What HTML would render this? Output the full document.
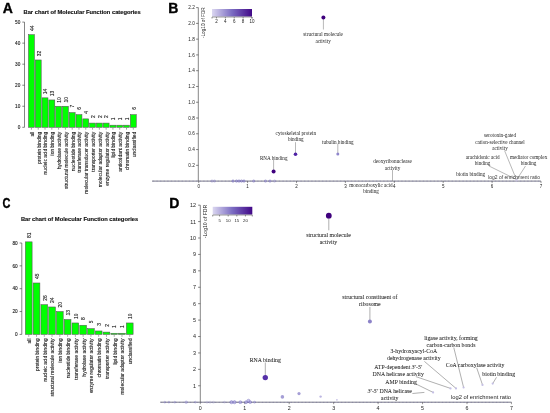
<!DOCTYPE html>
<html><head><meta charset="utf-8"><style>
html,body{margin:0;padding:0;background:#fff;width:550px;height:413px;overflow:hidden}
svg{display:block;filter:blur(0.3px)}
.S{font-family:"Liberation Sans",sans-serif}
.R{font-family:"Liberation Serif",serif}
</style></head><body>
<svg width="550" height="413" viewBox="0 0 550 413">
<rect width="550" height="413" fill="#fff"/>
<text class="S" x="2.70" y="12.80" font-size="14" text-anchor="start" font-weight="bold" fill="#000" stroke="#000" stroke-width="0.35">A</text>
<text class="S" x="168.20" y="12.80" font-size="14" text-anchor="start" font-weight="bold" fill="#000" stroke="#000" stroke-width="0.35">B</text>
<text class="S" x="2.50" y="208.40" font-size="14" text-anchor="start" font-weight="bold" fill="#000" textLength="7.9" lengthAdjust="spacingAndGlyphs" stroke="#000" stroke-width="0.35">C</text>
<text class="S" x="169.20" y="207.90" font-size="14" text-anchor="start" font-weight="bold" fill="#000" stroke="#000" stroke-width="0.35">D</text>
<text class="S" x="23.50" y="13.70" font-size="5.8" text-anchor="start" font-weight="bold" fill="#111" stroke="#111" stroke-width="0.15" textLength="117.3" lengthAdjust="spacingAndGlyphs">Bar chart of Molecular Function categories</text>
<line x1="24.50" y1="22.10" x2="24.50" y2="127.30" stroke="#333" stroke-width="0.6"/>
<line x1="22.30" y1="127.30" x2="24.50" y2="127.30" stroke="#333" stroke-width="0.6"/>
<text class="S" x="20.30" y="128.98" font-size="4.7" text-anchor="end" fill="#222" stroke="#222" stroke-width="0.12">0</text>
<line x1="22.30" y1="106.26" x2="24.50" y2="106.26" stroke="#333" stroke-width="0.6"/>
<text class="S" x="20.30" y="107.94" font-size="4.7" text-anchor="end" fill="#222" stroke="#222" stroke-width="0.12">10</text>
<line x1="22.30" y1="85.22" x2="24.50" y2="85.22" stroke="#333" stroke-width="0.6"/>
<text class="S" x="20.30" y="86.90" font-size="4.7" text-anchor="end" fill="#222" stroke="#222" stroke-width="0.12">20</text>
<line x1="22.30" y1="64.18" x2="24.50" y2="64.18" stroke="#333" stroke-width="0.6"/>
<text class="S" x="20.30" y="65.86" font-size="4.7" text-anchor="end" fill="#222" stroke="#222" stroke-width="0.12">30</text>
<line x1="22.30" y1="43.14" x2="24.50" y2="43.14" stroke="#333" stroke-width="0.6"/>
<text class="S" x="20.30" y="44.82" font-size="4.7" text-anchor="end" fill="#222" stroke="#222" stroke-width="0.12">40</text>
<line x1="22.30" y1="22.10" x2="24.50" y2="22.10" stroke="#333" stroke-width="0.6"/>
<text class="S" x="20.30" y="23.78" font-size="4.7" text-anchor="end" fill="#222" stroke="#222" stroke-width="0.12">50</text>
<rect x="28.50" y="34.72" width="5.90" height="92.58" fill="#00ff00" stroke="#555" stroke-width="0.55"/>
<line x1="31.45" y1="128.10" x2="31.45" y2="129.60" stroke="#333" stroke-width="0.5"/>
<text class="S" x="33.87" y="131.70" font-size="4.9" text-anchor="end" fill="#222" transform="rotate(-90 33.87 131.70)" stroke="#222" stroke-width="0.12">all</text>
<text class="S" x="33.73" y="28.32" font-size="4.95" text-anchor="middle" fill="#222" transform="rotate(-90 33.73 28.32)" stroke="#222" stroke-width="0.12">44</text>
<rect x="35.29" y="59.97" width="5.90" height="67.33" fill="#00ff00" stroke="#555" stroke-width="0.55"/>
<line x1="38.24" y1="128.10" x2="38.24" y2="129.60" stroke="#333" stroke-width="0.5"/>
<text class="S" x="40.66" y="131.70" font-size="4.9" text-anchor="end" fill="#222" transform="rotate(-90 40.66 131.70)" stroke="#222" stroke-width="0.12">protein binding</text>
<text class="S" x="40.52" y="53.57" font-size="4.95" text-anchor="middle" fill="#222" transform="rotate(-90 40.52 53.57)" stroke="#222" stroke-width="0.12">32</text>
<rect x="42.08" y="97.84" width="5.90" height="29.46" fill="#00ff00" stroke="#555" stroke-width="0.55"/>
<line x1="45.03" y1="128.10" x2="45.03" y2="129.60" stroke="#333" stroke-width="0.5"/>
<text class="S" x="47.45" y="131.70" font-size="4.9" text-anchor="end" fill="#222" transform="rotate(-90 47.45 131.70)" stroke="#222" stroke-width="0.12">nucleic acid binding</text>
<text class="S" x="47.31" y="91.44" font-size="4.95" text-anchor="middle" fill="#222" transform="rotate(-90 47.31 91.44)" stroke="#222" stroke-width="0.12">14</text>
<rect x="48.87" y="99.95" width="5.90" height="27.35" fill="#00ff00" stroke="#555" stroke-width="0.55"/>
<line x1="51.82" y1="128.10" x2="51.82" y2="129.60" stroke="#333" stroke-width="0.5"/>
<text class="S" x="54.24" y="131.70" font-size="4.9" text-anchor="end" fill="#222" transform="rotate(-90 54.24 131.70)" stroke="#222" stroke-width="0.12">ion binding</text>
<text class="S" x="54.10" y="93.55" font-size="4.95" text-anchor="middle" fill="#222" transform="rotate(-90 54.10 93.55)" stroke="#222" stroke-width="0.12">13</text>
<rect x="55.66" y="106.26" width="5.90" height="21.04" fill="#00ff00" stroke="#555" stroke-width="0.55"/>
<line x1="58.61" y1="128.10" x2="58.61" y2="129.60" stroke="#333" stroke-width="0.5"/>
<text class="S" x="61.03" y="131.70" font-size="4.9" text-anchor="end" fill="#222" transform="rotate(-90 61.03 131.70)" stroke="#222" stroke-width="0.12">hydrolase activity</text>
<text class="S" x="60.89" y="99.86" font-size="4.95" text-anchor="middle" fill="#222" transform="rotate(-90 60.89 99.86)" stroke="#222" stroke-width="0.12">10</text>
<rect x="62.45" y="106.26" width="5.90" height="21.04" fill="#00ff00" stroke="#555" stroke-width="0.55"/>
<line x1="65.40" y1="128.10" x2="65.40" y2="129.60" stroke="#333" stroke-width="0.5"/>
<text class="S" x="67.82" y="131.70" font-size="4.9" text-anchor="end" fill="#222" transform="rotate(-90 67.82 131.70)" stroke="#222" stroke-width="0.12">structural molecule activity</text>
<text class="S" x="67.68" y="99.86" font-size="4.95" text-anchor="middle" fill="#222" transform="rotate(-90 67.68 99.86)" stroke="#222" stroke-width="0.12">10</text>
<rect x="69.24" y="112.57" width="5.90" height="14.73" fill="#00ff00" stroke="#555" stroke-width="0.55"/>
<line x1="72.19" y1="128.10" x2="72.19" y2="129.60" stroke="#333" stroke-width="0.5"/>
<text class="S" x="74.61" y="131.70" font-size="4.9" text-anchor="end" fill="#222" transform="rotate(-90 74.61 131.70)" stroke="#222" stroke-width="0.12">nucleotide binding</text>
<text class="S" x="74.47" y="106.17" font-size="4.95" text-anchor="middle" fill="#222" transform="rotate(-90 74.47 106.17)" stroke="#222" stroke-width="0.12">7</text>
<rect x="76.03" y="114.68" width="5.90" height="12.62" fill="#00ff00" stroke="#555" stroke-width="0.55"/>
<line x1="78.98" y1="128.10" x2="78.98" y2="129.60" stroke="#333" stroke-width="0.5"/>
<text class="S" x="81.40" y="131.70" font-size="4.9" text-anchor="end" fill="#222" transform="rotate(-90 81.40 131.70)" stroke="#222" stroke-width="0.12">transferase activity</text>
<text class="S" x="81.26" y="108.28" font-size="4.95" text-anchor="middle" fill="#222" transform="rotate(-90 81.26 108.28)" stroke="#222" stroke-width="0.12">6</text>
<rect x="82.82" y="118.88" width="5.90" height="8.42" fill="#00ff00" stroke="#555" stroke-width="0.55"/>
<line x1="85.77" y1="128.10" x2="85.77" y2="129.60" stroke="#333" stroke-width="0.5"/>
<text class="S" x="88.19" y="131.70" font-size="4.9" text-anchor="end" fill="#222" transform="rotate(-90 88.19 131.70)" stroke="#222" stroke-width="0.12">molecular transducer activity</text>
<text class="S" x="88.05" y="112.48" font-size="4.95" text-anchor="middle" fill="#222" transform="rotate(-90 88.05 112.48)" stroke="#222" stroke-width="0.12">4</text>
<rect x="89.61" y="123.09" width="5.90" height="4.21" fill="#00ff00" stroke="#555" stroke-width="0.55"/>
<line x1="92.56" y1="128.10" x2="92.56" y2="129.60" stroke="#333" stroke-width="0.5"/>
<text class="S" x="94.98" y="131.70" font-size="4.9" text-anchor="end" fill="#222" transform="rotate(-90 94.98 131.70)" stroke="#222" stroke-width="0.12">transporter activity</text>
<text class="S" x="94.84" y="116.69" font-size="4.95" text-anchor="middle" fill="#222" transform="rotate(-90 94.84 116.69)" stroke="#222" stroke-width="0.12">2</text>
<rect x="96.40" y="123.09" width="5.90" height="4.21" fill="#00ff00" stroke="#555" stroke-width="0.55"/>
<line x1="99.35" y1="128.10" x2="99.35" y2="129.60" stroke="#333" stroke-width="0.5"/>
<text class="S" x="101.77" y="131.70" font-size="4.9" text-anchor="end" fill="#222" transform="rotate(-90 101.77 131.70)" stroke="#222" stroke-width="0.12">molecular adaptor activity</text>
<text class="S" x="101.63" y="116.69" font-size="4.95" text-anchor="middle" fill="#222" transform="rotate(-90 101.63 116.69)" stroke="#222" stroke-width="0.12">2</text>
<rect x="103.19" y="123.09" width="5.90" height="4.21" fill="#00ff00" stroke="#555" stroke-width="0.55"/>
<line x1="106.14" y1="128.10" x2="106.14" y2="129.60" stroke="#333" stroke-width="0.5"/>
<text class="S" x="108.56" y="131.70" font-size="4.9" text-anchor="end" fill="#222" transform="rotate(-90 108.56 131.70)" stroke="#222" stroke-width="0.12">enzyme regulator activity</text>
<text class="S" x="108.42" y="116.69" font-size="4.95" text-anchor="middle" fill="#222" transform="rotate(-90 108.42 116.69)" stroke="#222" stroke-width="0.12">2</text>
<rect x="109.98" y="125.20" width="5.90" height="2.10" fill="#00ff00" stroke="#555" stroke-width="0.55"/>
<line x1="112.93" y1="128.10" x2="112.93" y2="129.60" stroke="#333" stroke-width="0.5"/>
<text class="S" x="115.35" y="131.70" font-size="4.9" text-anchor="end" fill="#222" transform="rotate(-90 115.35 131.70)" stroke="#222" stroke-width="0.12">lipid binding</text>
<text class="S" x="115.21" y="118.80" font-size="4.95" text-anchor="middle" fill="#222" transform="rotate(-90 115.21 118.80)" stroke="#222" stroke-width="0.12">1</text>
<rect x="116.77" y="125.20" width="5.90" height="2.10" fill="#00ff00" stroke="#555" stroke-width="0.55"/>
<line x1="119.72" y1="128.10" x2="119.72" y2="129.60" stroke="#333" stroke-width="0.5"/>
<text class="S" x="122.14" y="131.70" font-size="4.9" text-anchor="end" fill="#222" transform="rotate(-90 122.14 131.70)" stroke="#222" stroke-width="0.12">antioxidant activity</text>
<text class="S" x="122.00" y="118.80" font-size="4.95" text-anchor="middle" fill="#222" transform="rotate(-90 122.00 118.80)" stroke="#222" stroke-width="0.12">1</text>
<rect x="123.56" y="125.20" width="5.90" height="2.10" fill="#00ff00" stroke="#555" stroke-width="0.55"/>
<line x1="126.51" y1="128.10" x2="126.51" y2="129.60" stroke="#333" stroke-width="0.5"/>
<text class="S" x="128.93" y="131.70" font-size="4.9" text-anchor="end" fill="#222" transform="rotate(-90 128.93 131.70)" stroke="#222" stroke-width="0.12">chromatin binding</text>
<text class="S" x="128.79" y="118.80" font-size="4.95" text-anchor="middle" fill="#222" transform="rotate(-90 128.79 118.80)" stroke="#222" stroke-width="0.12">1</text>
<rect x="130.35" y="114.68" width="5.90" height="12.62" fill="#00ff00" stroke="#555" stroke-width="0.55"/>
<line x1="133.30" y1="128.10" x2="133.30" y2="129.60" stroke="#333" stroke-width="0.5"/>
<text class="S" x="135.71" y="131.70" font-size="4.9" text-anchor="end" fill="#222" transform="rotate(-90 135.71 131.70)" stroke="#222" stroke-width="0.12">unclassified</text>
<text class="S" x="135.58" y="108.28" font-size="4.95" text-anchor="middle" fill="#222" transform="rotate(-90 135.58 108.28)" stroke="#222" stroke-width="0.12">6</text>
<text class="S" x="20.90" y="221.00" font-size="5.8" text-anchor="start" font-weight="bold" fill="#111" stroke="#111" stroke-width="0.15" textLength="117.3" lengthAdjust="spacingAndGlyphs">Bar chart of Molecular Function categories</text>
<line x1="21.80" y1="243.00" x2="21.80" y2="334.40" stroke="#333" stroke-width="0.6"/>
<line x1="19.60" y1="334.40" x2="21.80" y2="334.40" stroke="#333" stroke-width="0.6"/>
<text class="S" x="17.60" y="336.08" font-size="4.7" text-anchor="end" fill="#222" stroke="#222" stroke-width="0.12">0</text>
<line x1="19.60" y1="311.55" x2="21.80" y2="311.55" stroke="#333" stroke-width="0.6"/>
<text class="S" x="17.60" y="313.23" font-size="4.7" text-anchor="end" fill="#222" stroke="#222" stroke-width="0.12">20</text>
<line x1="19.60" y1="288.70" x2="21.80" y2="288.70" stroke="#333" stroke-width="0.6"/>
<text class="S" x="17.60" y="290.38" font-size="4.7" text-anchor="end" fill="#222" stroke="#222" stroke-width="0.12">40</text>
<line x1="19.60" y1="265.85" x2="21.80" y2="265.85" stroke="#333" stroke-width="0.6"/>
<text class="S" x="17.60" y="267.53" font-size="4.7" text-anchor="end" fill="#222" stroke="#222" stroke-width="0.12">60</text>
<line x1="19.60" y1="243.00" x2="21.80" y2="243.00" stroke="#333" stroke-width="0.6"/>
<text class="S" x="17.60" y="244.68" font-size="4.7" text-anchor="end" fill="#222" stroke="#222" stroke-width="0.12">80</text>
<rect x="25.40" y="241.86" width="6.70" height="92.54" fill="#00ff00" stroke="#555" stroke-width="0.55"/>
<line x1="28.75" y1="335.20" x2="28.75" y2="336.70" stroke="#333" stroke-width="0.5"/>
<text class="S" x="31.18" y="338.50" font-size="4.95" text-anchor="end" fill="#222" transform="rotate(-90 31.18 338.50)" stroke="#222" stroke-width="0.12">all</text>
<text class="S" x="31.03" y="235.16" font-size="4.95" text-anchor="middle" fill="#222" transform="rotate(-90 31.03 235.16)" stroke="#222" stroke-width="0.12">81</text>
<rect x="33.17" y="282.99" width="6.70" height="51.41" fill="#00ff00" stroke="#555" stroke-width="0.55"/>
<line x1="36.52" y1="335.20" x2="36.52" y2="336.70" stroke="#333" stroke-width="0.5"/>
<text class="S" x="38.95" y="338.50" font-size="4.95" text-anchor="end" fill="#222" transform="rotate(-90 38.95 338.50)" stroke="#222" stroke-width="0.12">protein binding</text>
<text class="S" x="38.80" y="276.29" font-size="4.95" text-anchor="middle" fill="#222" transform="rotate(-90 38.80 276.29)" stroke="#222" stroke-width="0.12">45</text>
<rect x="40.94" y="304.69" width="6.70" height="29.71" fill="#00ff00" stroke="#555" stroke-width="0.55"/>
<line x1="44.29" y1="335.20" x2="44.29" y2="336.70" stroke="#333" stroke-width="0.5"/>
<text class="S" x="46.72" y="338.50" font-size="4.95" text-anchor="end" fill="#222" transform="rotate(-90 46.72 338.50)" stroke="#222" stroke-width="0.12">nucleic acid binding</text>
<text class="S" x="46.57" y="298.00" font-size="4.95" text-anchor="middle" fill="#222" transform="rotate(-90 46.57 298.00)" stroke="#222" stroke-width="0.12">26</text>
<rect x="48.71" y="306.98" width="6.70" height="27.42" fill="#00ff00" stroke="#555" stroke-width="0.55"/>
<line x1="52.06" y1="335.20" x2="52.06" y2="336.70" stroke="#333" stroke-width="0.5"/>
<text class="S" x="54.49" y="338.50" font-size="4.95" text-anchor="end" fill="#222" transform="rotate(-90 54.49 338.50)" stroke="#222" stroke-width="0.12">structural molecule activity</text>
<text class="S" x="54.34" y="300.28" font-size="4.95" text-anchor="middle" fill="#222" transform="rotate(-90 54.34 300.28)" stroke="#222" stroke-width="0.12">24</text>
<rect x="56.48" y="311.55" width="6.70" height="22.85" fill="#00ff00" stroke="#555" stroke-width="0.55"/>
<line x1="59.83" y1="335.20" x2="59.83" y2="336.70" stroke="#333" stroke-width="0.5"/>
<text class="S" x="62.26" y="338.50" font-size="4.95" text-anchor="end" fill="#222" transform="rotate(-90 62.26 338.50)" stroke="#222" stroke-width="0.12">ion binding</text>
<text class="S" x="62.11" y="304.85" font-size="4.95" text-anchor="middle" fill="#222" transform="rotate(-90 62.11 304.85)" stroke="#222" stroke-width="0.12">20</text>
<rect x="64.25" y="319.55" width="6.70" height="14.85" fill="#00ff00" stroke="#555" stroke-width="0.55"/>
<line x1="67.60" y1="335.20" x2="67.60" y2="336.70" stroke="#333" stroke-width="0.5"/>
<text class="S" x="70.03" y="338.50" font-size="4.95" text-anchor="end" fill="#222" transform="rotate(-90 70.03 338.50)" stroke="#222" stroke-width="0.12">nucleotide binding</text>
<text class="S" x="69.88" y="312.85" font-size="4.95" text-anchor="middle" fill="#222" transform="rotate(-90 69.88 312.85)" stroke="#222" stroke-width="0.12">13</text>
<rect x="72.02" y="322.97" width="6.70" height="11.43" fill="#00ff00" stroke="#555" stroke-width="0.55"/>
<line x1="75.37" y1="335.20" x2="75.37" y2="336.70" stroke="#333" stroke-width="0.5"/>
<text class="S" x="77.80" y="338.50" font-size="4.95" text-anchor="end" fill="#222" transform="rotate(-90 77.80 338.50)" stroke="#222" stroke-width="0.12">transferase activity</text>
<text class="S" x="77.65" y="316.27" font-size="4.95" text-anchor="middle" fill="#222" transform="rotate(-90 77.65 316.27)" stroke="#222" stroke-width="0.12">10</text>
<rect x="79.79" y="325.26" width="6.70" height="9.14" fill="#00ff00" stroke="#555" stroke-width="0.55"/>
<line x1="83.14" y1="335.20" x2="83.14" y2="336.70" stroke="#333" stroke-width="0.5"/>
<text class="S" x="85.57" y="338.50" font-size="4.95" text-anchor="end" fill="#222" transform="rotate(-90 85.57 338.50)" stroke="#222" stroke-width="0.12">hydrolase activity</text>
<text class="S" x="85.42" y="318.56" font-size="4.95" text-anchor="middle" fill="#222" transform="rotate(-90 85.42 318.56)" stroke="#222" stroke-width="0.12">8</text>
<rect x="87.56" y="328.69" width="6.70" height="5.71" fill="#00ff00" stroke="#555" stroke-width="0.55"/>
<line x1="90.91" y1="335.20" x2="90.91" y2="336.70" stroke="#333" stroke-width="0.5"/>
<text class="S" x="93.34" y="338.50" font-size="4.95" text-anchor="end" fill="#222" transform="rotate(-90 93.34 338.50)" stroke="#222" stroke-width="0.12">enzyme regulator activity</text>
<text class="S" x="93.19" y="321.99" font-size="4.95" text-anchor="middle" fill="#222" transform="rotate(-90 93.19 321.99)" stroke="#222" stroke-width="0.12">5</text>
<rect x="95.33" y="330.97" width="6.70" height="3.43" fill="#00ff00" stroke="#555" stroke-width="0.55"/>
<line x1="98.68" y1="335.20" x2="98.68" y2="336.70" stroke="#333" stroke-width="0.5"/>
<text class="S" x="101.11" y="338.50" font-size="4.95" text-anchor="end" fill="#222" transform="rotate(-90 101.11 338.50)" stroke="#222" stroke-width="0.12">chromatin binding</text>
<text class="S" x="100.96" y="324.27" font-size="4.95" text-anchor="middle" fill="#222" transform="rotate(-90 100.96 324.27)" stroke="#222" stroke-width="0.12">3</text>
<rect x="103.10" y="332.11" width="6.70" height="2.29" fill="#00ff00" stroke="#555" stroke-width="0.55"/>
<line x1="106.45" y1="335.20" x2="106.45" y2="336.70" stroke="#333" stroke-width="0.5"/>
<text class="S" x="108.88" y="338.50" font-size="4.95" text-anchor="end" fill="#222" transform="rotate(-90 108.88 338.50)" stroke="#222" stroke-width="0.12">transporter activity</text>
<text class="S" x="108.73" y="325.41" font-size="4.95" text-anchor="middle" fill="#222" transform="rotate(-90 108.73 325.41)" stroke="#222" stroke-width="0.12">2</text>
<rect x="110.87" y="333.26" width="6.70" height="1.14" fill="#00ff00" stroke="#555" stroke-width="0.55"/>
<line x1="114.22" y1="335.20" x2="114.22" y2="336.70" stroke="#333" stroke-width="0.5"/>
<text class="S" x="116.65" y="338.50" font-size="4.95" text-anchor="end" fill="#222" transform="rotate(-90 116.65 338.50)" stroke="#222" stroke-width="0.12">lipid binding</text>
<text class="S" x="116.50" y="326.56" font-size="4.95" text-anchor="middle" fill="#222" transform="rotate(-90 116.50 326.56)" stroke="#222" stroke-width="0.12">1</text>
<rect x="118.64" y="333.26" width="6.70" height="1.14" fill="#00ff00" stroke="#555" stroke-width="0.55"/>
<line x1="121.99" y1="335.20" x2="121.99" y2="336.70" stroke="#333" stroke-width="0.5"/>
<text class="S" x="124.42" y="338.50" font-size="4.95" text-anchor="end" fill="#222" transform="rotate(-90 124.42 338.50)" stroke="#222" stroke-width="0.12">molecular adaptor activity</text>
<text class="S" x="124.27" y="326.56" font-size="4.95" text-anchor="middle" fill="#222" transform="rotate(-90 124.27 326.56)" stroke="#222" stroke-width="0.12">1</text>
<rect x="126.41" y="322.97" width="6.70" height="11.43" fill="#00ff00" stroke="#555" stroke-width="0.55"/>
<line x1="129.76" y1="335.20" x2="129.76" y2="336.70" stroke="#333" stroke-width="0.5"/>
<text class="S" x="132.19" y="338.50" font-size="4.95" text-anchor="end" fill="#222" transform="rotate(-90 132.19 338.50)" stroke="#222" stroke-width="0.12">unclassified</text>
<text class="S" x="132.04" y="316.27" font-size="4.95" text-anchor="middle" fill="#222" transform="rotate(-90 132.04 316.27)" stroke="#222" stroke-width="0.12">10</text>
<defs><linearGradient id="gB" x1="0" x2="1" y1="0" y2="0"><stop offset="0" stop-color="#dbd7f0"/><stop offset="0.5" stop-color="#7b6cc2"/><stop offset="1" stop-color="#420888"/></linearGradient></defs>
<rect x="212.00" y="9.00" width="40.00" height="7.50" fill="url(#gB)" stroke="none" stroke-width="0"/>
<line x1="212.00" y1="17.00" x2="252.00" y2="17.00" stroke="#333" stroke-width="0.5"/>
<line x1="212.00" y1="17.00" x2="212.00" y2="18.50" stroke="#333" stroke-width="0.5"/>
<line x1="252.00" y1="17.00" x2="252.00" y2="18.50" stroke="#333" stroke-width="0.5"/>
<line x1="216.44" y1="17.00" x2="216.44" y2="18.50" stroke="#333" stroke-width="0.5"/>
<text class="S" x="216.44" y="23.10" font-size="4.5" text-anchor="middle" fill="#222">2</text>
<line x1="225.33" y1="17.00" x2="225.33" y2="18.50" stroke="#333" stroke-width="0.5"/>
<text class="S" x="225.33" y="23.10" font-size="4.5" text-anchor="middle" fill="#222">4</text>
<line x1="234.22" y1="17.00" x2="234.22" y2="18.50" stroke="#333" stroke-width="0.5"/>
<text class="S" x="234.22" y="23.10" font-size="4.5" text-anchor="middle" fill="#222">6</text>
<line x1="243.11" y1="17.00" x2="243.11" y2="18.50" stroke="#333" stroke-width="0.5"/>
<text class="S" x="243.11" y="23.10" font-size="4.5" text-anchor="middle" fill="#222">8</text>
<line x1="252.00" y1="17.00" x2="252.00" y2="18.50" stroke="#333" stroke-width="0.5"/>
<text class="S" x="252.00" y="23.10" font-size="4.5" text-anchor="middle" fill="#222">10</text>
<line x1="198.30" y1="7.60" x2="198.30" y2="181.10" stroke="#333" stroke-width="0.6"/>
<line x1="196.10" y1="165.33" x2="198.30" y2="165.33" stroke="#333" stroke-width="0.6"/>
<text class="S" x="194.90" y="167.01" font-size="4.7" text-anchor="end" fill="#222">0.2</text>
<line x1="196.10" y1="149.56" x2="198.30" y2="149.56" stroke="#333" stroke-width="0.6"/>
<text class="S" x="194.90" y="151.24" font-size="4.7" text-anchor="end" fill="#222">0.4</text>
<line x1="196.10" y1="133.78" x2="198.30" y2="133.78" stroke="#333" stroke-width="0.6"/>
<text class="S" x="194.90" y="135.47" font-size="4.7" text-anchor="end" fill="#222">0.6</text>
<line x1="196.10" y1="118.01" x2="198.30" y2="118.01" stroke="#333" stroke-width="0.6"/>
<text class="S" x="194.90" y="119.69" font-size="4.7" text-anchor="end" fill="#222">0.8</text>
<line x1="196.10" y1="102.24" x2="198.30" y2="102.24" stroke="#333" stroke-width="0.6"/>
<text class="S" x="194.90" y="103.92" font-size="4.7" text-anchor="end" fill="#222">1.0</text>
<line x1="196.10" y1="86.47" x2="198.30" y2="86.47" stroke="#333" stroke-width="0.6"/>
<text class="S" x="194.90" y="88.15" font-size="4.7" text-anchor="end" fill="#222">1.2</text>
<line x1="196.10" y1="70.70" x2="198.30" y2="70.70" stroke="#333" stroke-width="0.6"/>
<text class="S" x="194.90" y="72.38" font-size="4.7" text-anchor="end" fill="#222">1.4</text>
<line x1="196.10" y1="54.92" x2="198.30" y2="54.92" stroke="#333" stroke-width="0.6"/>
<text class="S" x="194.90" y="56.61" font-size="4.7" text-anchor="end" fill="#222">1.6</text>
<line x1="196.10" y1="39.15" x2="198.30" y2="39.15" stroke="#333" stroke-width="0.6"/>
<text class="S" x="194.90" y="40.83" font-size="4.7" text-anchor="end" fill="#222">1.8</text>
<line x1="196.10" y1="23.38" x2="198.30" y2="23.38" stroke="#333" stroke-width="0.6"/>
<text class="S" x="194.90" y="25.06" font-size="4.7" text-anchor="end" fill="#222">2.0</text>
<line x1="196.10" y1="7.61" x2="198.30" y2="7.61" stroke="#333" stroke-width="0.6"/>
<text class="S" x="194.90" y="9.29" font-size="4.7" text-anchor="end" fill="#222">2.2</text>
<text class="S" x="204.60" y="22.70" font-size="4.7" text-anchor="middle" fill="#222" transform="rotate(-90 204.60 22.70)">-Log10 of FDR</text>
<line x1="152.00" y1="181.10" x2="541.00" y2="181.10" stroke="#3c3c55" stroke-width="0.7"/>
<ellipse cx="153.50" cy="181.10" rx="0.8" ry="0.5" fill="#5a5490" fill-opacity="0.35"/>
<ellipse cx="157.10" cy="181.10" rx="0.8" ry="0.5" fill="#5a5490" fill-opacity="0.35"/>
<ellipse cx="160.70" cy="181.10" rx="0.8" ry="0.5" fill="#5a5490" fill-opacity="0.35"/>
<ellipse cx="164.30" cy="181.10" rx="0.8" ry="0.5" fill="#5a5490" fill-opacity="0.35"/>
<ellipse cx="167.90" cy="181.10" rx="0.8" ry="0.5" fill="#5a5490" fill-opacity="0.35"/>
<ellipse cx="171.50" cy="181.10" rx="0.8" ry="0.5" fill="#5a5490" fill-opacity="0.35"/>
<ellipse cx="175.10" cy="181.10" rx="0.8" ry="0.5" fill="#5a5490" fill-opacity="0.35"/>
<ellipse cx="178.70" cy="181.10" rx="0.8" ry="0.5" fill="#5a5490" fill-opacity="0.35"/>
<ellipse cx="182.30" cy="181.10" rx="0.8" ry="0.5" fill="#5a5490" fill-opacity="0.35"/>
<ellipse cx="185.90" cy="181.10" rx="0.8" ry="0.5" fill="#5a5490" fill-opacity="0.35"/>
<ellipse cx="189.50" cy="181.10" rx="0.8" ry="0.5" fill="#5a5490" fill-opacity="0.35"/>
<ellipse cx="193.10" cy="181.10" rx="0.8" ry="0.5" fill="#5a5490" fill-opacity="0.35"/>
<ellipse cx="196.70" cy="181.10" rx="0.8" ry="0.5" fill="#5a5490" fill-opacity="0.35"/>
<ellipse cx="200.30" cy="181.10" rx="0.8" ry="0.5" fill="#5a5490" fill-opacity="0.35"/>
<ellipse cx="203.90" cy="181.10" rx="0.8" ry="0.5" fill="#5a5490" fill-opacity="0.35"/>
<ellipse cx="207.50" cy="181.10" rx="0.8" ry="0.5" fill="#5a5490" fill-opacity="0.35"/>
<ellipse cx="211.10" cy="181.10" rx="0.8" ry="0.5" fill="#5a5490" fill-opacity="0.35"/>
<ellipse cx="214.70" cy="181.10" rx="0.8" ry="0.5" fill="#5a5490" fill-opacity="0.35"/>
<ellipse cx="218.30" cy="181.10" rx="0.8" ry="0.5" fill="#5a5490" fill-opacity="0.35"/>
<ellipse cx="221.90" cy="181.10" rx="0.8" ry="0.5" fill="#5a5490" fill-opacity="0.35"/>
<ellipse cx="225.50" cy="181.10" rx="0.8" ry="0.5" fill="#5a5490" fill-opacity="0.35"/>
<ellipse cx="229.10" cy="181.10" rx="0.8" ry="0.5" fill="#5a5490" fill-opacity="0.35"/>
<ellipse cx="232.70" cy="181.10" rx="0.8" ry="0.5" fill="#5a5490" fill-opacity="0.35"/>
<ellipse cx="236.30" cy="181.10" rx="0.8" ry="0.5" fill="#5a5490" fill-opacity="0.35"/>
<ellipse cx="239.90" cy="181.10" rx="0.8" ry="0.5" fill="#5a5490" fill-opacity="0.35"/>
<ellipse cx="243.50" cy="181.10" rx="0.8" ry="0.5" fill="#5a5490" fill-opacity="0.35"/>
<ellipse cx="247.10" cy="181.10" rx="0.8" ry="0.5" fill="#5a5490" fill-opacity="0.35"/>
<ellipse cx="250.70" cy="181.10" rx="0.8" ry="0.5" fill="#5a5490" fill-opacity="0.35"/>
<ellipse cx="254.30" cy="181.10" rx="0.8" ry="0.5" fill="#5a5490" fill-opacity="0.35"/>
<ellipse cx="257.90" cy="181.10" rx="0.8" ry="0.5" fill="#5a5490" fill-opacity="0.35"/>
<ellipse cx="261.50" cy="181.10" rx="0.8" ry="0.5" fill="#5a5490" fill-opacity="0.35"/>
<ellipse cx="265.10" cy="181.10" rx="0.8" ry="0.5" fill="#5a5490" fill-opacity="0.35"/>
<ellipse cx="268.70" cy="181.10" rx="0.8" ry="0.5" fill="#5a5490" fill-opacity="0.35"/>
<ellipse cx="272.30" cy="181.10" rx="0.8" ry="0.5" fill="#5a5490" fill-opacity="0.35"/>
<ellipse cx="275.90" cy="181.10" rx="0.8" ry="0.5" fill="#5a5490" fill-opacity="0.35"/>
<ellipse cx="279.50" cy="181.10" rx="0.8" ry="0.5" fill="#5a5490" fill-opacity="0.35"/>
<ellipse cx="283.10" cy="181.10" rx="0.8" ry="0.5" fill="#5a5490" fill-opacity="0.35"/>
<ellipse cx="286.70" cy="181.10" rx="0.8" ry="0.5" fill="#5a5490" fill-opacity="0.35"/>
<ellipse cx="290.30" cy="181.10" rx="0.8" ry="0.5" fill="#5a5490" fill-opacity="0.35"/>
<ellipse cx="293.90" cy="181.10" rx="0.8" ry="0.5" fill="#5a5490" fill-opacity="0.35"/>
<ellipse cx="297.50" cy="181.10" rx="0.8" ry="0.5" fill="#5a5490" fill-opacity="0.35"/>
<ellipse cx="301.10" cy="181.10" rx="0.8" ry="0.5" fill="#5a5490" fill-opacity="0.35"/>
<ellipse cx="304.70" cy="181.10" rx="0.8" ry="0.5" fill="#5a5490" fill-opacity="0.35"/>
<ellipse cx="308.30" cy="181.10" rx="0.8" ry="0.5" fill="#5a5490" fill-opacity="0.35"/>
<ellipse cx="311.90" cy="181.10" rx="0.8" ry="0.5" fill="#5a5490" fill-opacity="0.35"/>
<ellipse cx="315.50" cy="181.10" rx="0.8" ry="0.5" fill="#5a5490" fill-opacity="0.35"/>
<ellipse cx="319.10" cy="181.10" rx="0.8" ry="0.5" fill="#5a5490" fill-opacity="0.35"/>
<ellipse cx="322.70" cy="181.10" rx="0.8" ry="0.5" fill="#5a5490" fill-opacity="0.35"/>
<ellipse cx="326.30" cy="181.10" rx="0.8" ry="0.5" fill="#5a5490" fill-opacity="0.35"/>
<ellipse cx="329.90" cy="181.10" rx="0.8" ry="0.5" fill="#5a5490" fill-opacity="0.35"/>
<ellipse cx="333.50" cy="181.10" rx="0.8" ry="0.5" fill="#5a5490" fill-opacity="0.35"/>
<ellipse cx="337.10" cy="181.10" rx="0.8" ry="0.5" fill="#5a5490" fill-opacity="0.35"/>
<ellipse cx="340.70" cy="181.10" rx="0.8" ry="0.5" fill="#5a5490" fill-opacity="0.35"/>
<ellipse cx="344.30" cy="181.10" rx="0.8" ry="0.5" fill="#5a5490" fill-opacity="0.35"/>
<ellipse cx="347.90" cy="181.10" rx="0.8" ry="0.5" fill="#5a5490" fill-opacity="0.35"/>
<ellipse cx="351.50" cy="181.10" rx="0.8" ry="0.5" fill="#5a5490" fill-opacity="0.35"/>
<ellipse cx="355.10" cy="181.10" rx="0.8" ry="0.5" fill="#5a5490" fill-opacity="0.35"/>
<ellipse cx="358.70" cy="181.10" rx="0.8" ry="0.5" fill="#5a5490" fill-opacity="0.35"/>
<ellipse cx="362.30" cy="181.10" rx="0.8" ry="0.5" fill="#5a5490" fill-opacity="0.35"/>
<ellipse cx="365.90" cy="181.10" rx="0.8" ry="0.5" fill="#5a5490" fill-opacity="0.35"/>
<ellipse cx="369.50" cy="181.10" rx="0.8" ry="0.5" fill="#5a5490" fill-opacity="0.35"/>
<ellipse cx="373.10" cy="181.10" rx="0.8" ry="0.5" fill="#5a5490" fill-opacity="0.35"/>
<ellipse cx="376.70" cy="181.10" rx="0.8" ry="0.5" fill="#5a5490" fill-opacity="0.35"/>
<ellipse cx="380.30" cy="181.10" rx="0.8" ry="0.5" fill="#5a5490" fill-opacity="0.35"/>
<ellipse cx="383.90" cy="181.10" rx="0.8" ry="0.5" fill="#5a5490" fill-opacity="0.35"/>
<ellipse cx="387.50" cy="181.10" rx="0.8" ry="0.5" fill="#5a5490" fill-opacity="0.35"/>
<ellipse cx="391.10" cy="181.10" rx="0.8" ry="0.5" fill="#5a5490" fill-opacity="0.35"/>
<ellipse cx="394.70" cy="181.10" rx="0.8" ry="0.5" fill="#5a5490" fill-opacity="0.35"/>
<ellipse cx="398.30" cy="181.10" rx="0.8" ry="0.5" fill="#5a5490" fill-opacity="0.35"/>
<ellipse cx="401.90" cy="181.10" rx="0.8" ry="0.5" fill="#5a5490" fill-opacity="0.35"/>
<ellipse cx="405.50" cy="181.10" rx="0.8" ry="0.5" fill="#5a5490" fill-opacity="0.35"/>
<ellipse cx="409.10" cy="181.10" rx="0.8" ry="0.5" fill="#5a5490" fill-opacity="0.35"/>
<ellipse cx="412.70" cy="181.10" rx="0.8" ry="0.5" fill="#5a5490" fill-opacity="0.35"/>
<ellipse cx="416.30" cy="181.10" rx="0.8" ry="0.5" fill="#5a5490" fill-opacity="0.35"/>
<ellipse cx="419.90" cy="181.10" rx="0.8" ry="0.5" fill="#5a5490" fill-opacity="0.35"/>
<ellipse cx="423.50" cy="181.10" rx="0.8" ry="0.5" fill="#5a5490" fill-opacity="0.35"/>
<ellipse cx="427.10" cy="181.10" rx="0.8" ry="0.5" fill="#5a5490" fill-opacity="0.35"/>
<ellipse cx="430.70" cy="181.10" rx="0.8" ry="0.5" fill="#5a5490" fill-opacity="0.35"/>
<ellipse cx="434.30" cy="181.10" rx="0.8" ry="0.5" fill="#5a5490" fill-opacity="0.35"/>
<ellipse cx="437.90" cy="181.10" rx="0.8" ry="0.5" fill="#5a5490" fill-opacity="0.35"/>
<ellipse cx="441.50" cy="181.10" rx="0.8" ry="0.5" fill="#5a5490" fill-opacity="0.35"/>
<ellipse cx="445.10" cy="181.10" rx="0.8" ry="0.5" fill="#5a5490" fill-opacity="0.35"/>
<ellipse cx="448.70" cy="181.10" rx="0.8" ry="0.5" fill="#5a5490" fill-opacity="0.35"/>
<ellipse cx="452.30" cy="181.10" rx="0.8" ry="0.5" fill="#5a5490" fill-opacity="0.35"/>
<ellipse cx="455.90" cy="181.10" rx="0.8" ry="0.5" fill="#5a5490" fill-opacity="0.35"/>
<ellipse cx="459.50" cy="181.10" rx="0.8" ry="0.5" fill="#5a5490" fill-opacity="0.35"/>
<ellipse cx="463.10" cy="181.10" rx="0.8" ry="0.5" fill="#5a5490" fill-opacity="0.35"/>
<ellipse cx="466.70" cy="181.10" rx="0.8" ry="0.5" fill="#5a5490" fill-opacity="0.35"/>
<ellipse cx="470.30" cy="181.10" rx="0.8" ry="0.5" fill="#5a5490" fill-opacity="0.35"/>
<ellipse cx="473.90" cy="181.10" rx="0.8" ry="0.5" fill="#5a5490" fill-opacity="0.35"/>
<ellipse cx="477.50" cy="181.10" rx="0.8" ry="0.5" fill="#5a5490" fill-opacity="0.35"/>
<ellipse cx="481.10" cy="181.10" rx="0.8" ry="0.5" fill="#5a5490" fill-opacity="0.35"/>
<ellipse cx="484.70" cy="181.10" rx="0.8" ry="0.5" fill="#5a5490" fill-opacity="0.35"/>
<ellipse cx="488.30" cy="181.10" rx="0.8" ry="0.5" fill="#5a5490" fill-opacity="0.35"/>
<ellipse cx="491.90" cy="181.10" rx="0.8" ry="0.5" fill="#5a5490" fill-opacity="0.35"/>
<ellipse cx="495.50" cy="181.10" rx="0.8" ry="0.5" fill="#5a5490" fill-opacity="0.35"/>
<ellipse cx="499.10" cy="181.10" rx="0.8" ry="0.5" fill="#5a5490" fill-opacity="0.35"/>
<ellipse cx="502.70" cy="181.10" rx="0.8" ry="0.5" fill="#5a5490" fill-opacity="0.35"/>
<ellipse cx="506.30" cy="181.10" rx="0.8" ry="0.5" fill="#5a5490" fill-opacity="0.35"/>
<ellipse cx="509.90" cy="181.10" rx="0.8" ry="0.5" fill="#5a5490" fill-opacity="0.35"/>
<ellipse cx="513.50" cy="181.10" rx="0.8" ry="0.5" fill="#5a5490" fill-opacity="0.35"/>
<ellipse cx="517.10" cy="181.10" rx="0.8" ry="0.5" fill="#5a5490" fill-opacity="0.35"/>
<ellipse cx="520.70" cy="181.10" rx="0.8" ry="0.5" fill="#5a5490" fill-opacity="0.35"/>
<ellipse cx="524.30" cy="181.10" rx="0.8" ry="0.5" fill="#5a5490" fill-opacity="0.35"/>
<ellipse cx="527.90" cy="181.10" rx="0.8" ry="0.5" fill="#5a5490" fill-opacity="0.35"/>
<ellipse cx="531.50" cy="181.10" rx="0.8" ry="0.5" fill="#5a5490" fill-opacity="0.35"/>
<ellipse cx="535.10" cy="181.10" rx="0.8" ry="0.5" fill="#5a5490" fill-opacity="0.35"/>
<ellipse cx="538.70" cy="181.10" rx="0.8" ry="0.5" fill="#5a5490" fill-opacity="0.35"/>
<line x1="198.70" y1="181.10" x2="198.70" y2="183.10" stroke="#333" stroke-width="0.5"/>
<text class="S" x="198.70" y="188.17" font-size="4.5" text-anchor="middle" fill="#222">0</text>
<line x1="247.60" y1="181.10" x2="247.60" y2="183.10" stroke="#333" stroke-width="0.5"/>
<text class="S" x="247.60" y="188.17" font-size="4.5" text-anchor="middle" fill="#222">1</text>
<line x1="296.50" y1="181.10" x2="296.50" y2="183.10" stroke="#333" stroke-width="0.5"/>
<text class="S" x="296.50" y="188.17" font-size="4.5" text-anchor="middle" fill="#222">2</text>
<line x1="345.40" y1="181.10" x2="345.40" y2="183.10" stroke="#333" stroke-width="0.5"/>
<text class="S" x="345.40" y="188.17" font-size="4.5" text-anchor="middle" fill="#222">3</text>
<line x1="394.30" y1="181.10" x2="394.30" y2="183.10" stroke="#333" stroke-width="0.5"/>
<text class="S" x="394.30" y="188.17" font-size="4.5" text-anchor="middle" fill="#222">4</text>
<line x1="443.20" y1="181.10" x2="443.20" y2="183.10" stroke="#333" stroke-width="0.5"/>
<text class="S" x="443.20" y="188.17" font-size="4.5" text-anchor="middle" fill="#222">5</text>
<line x1="492.10" y1="181.10" x2="492.10" y2="183.10" stroke="#333" stroke-width="0.5"/>
<text class="S" x="492.10" y="188.17" font-size="4.5" text-anchor="middle" fill="#222">6</text>
<line x1="541.00" y1="181.10" x2="541.00" y2="183.10" stroke="#333" stroke-width="0.5"/>
<text class="S" x="541.00" y="188.17" font-size="4.5" text-anchor="middle" fill="#222">7</text>
<circle cx="212.00" cy="181.10" r="1.25" fill="#a098d8" stroke="#4a40a0" stroke-width="0.4" opacity="0.4"/>
<circle cx="214.50" cy="181.10" r="1.25" fill="#a098d8" stroke="#4a40a0" stroke-width="0.4" opacity="0.4"/>
<circle cx="233.00" cy="181.10" r="1.25" fill="#a098d8" stroke="#4a40a0" stroke-width="0.4" opacity="0.7"/>
<circle cx="236.50" cy="181.10" r="1.25" fill="#a098d8" stroke="#4a40a0" stroke-width="0.4" opacity="0.7"/>
<circle cx="239.00" cy="181.10" r="1.25" fill="#a098d8" stroke="#4a40a0" stroke-width="0.4" opacity="0.7"/>
<circle cx="241.50" cy="181.10" r="1.25" fill="#a098d8" stroke="#4a40a0" stroke-width="0.4" opacity="0.7"/>
<circle cx="244.00" cy="181.10" r="1.25" fill="#a098d8" stroke="#4a40a0" stroke-width="0.4" opacity="0.7"/>
<circle cx="253.70" cy="181.10" r="1.25" fill="#a098d8" stroke="#4a40a0" stroke-width="0.4" opacity="0.6"/>
<circle cx="265.50" cy="181.10" r="1.25" fill="#a098d8" stroke="#4a40a0" stroke-width="0.4" opacity="0.6"/>
<circle cx="270.00" cy="181.10" r="1.25" fill="#a098d8" stroke="#4a40a0" stroke-width="0.4" opacity="0.6"/>
<circle cx="274.50" cy="181.10" r="1.25" fill="#a098d8" stroke="#4a40a0" stroke-width="0.4" opacity="0.4"/>
<line x1="323.40" y1="17.50" x2="323.40" y2="29.50" stroke="#707070" stroke-width="0.5"/>
<circle cx="323.40" cy="17.50" r="2.00" fill="#3f007d" stroke="none" stroke-width="0"/>
<text class="R" x="323.10" y="36.26" font-size="5.15" text-anchor="middle" fill="#222">structural molecule</text>
<text class="R" x="323.10" y="42.56" font-size="5.15" text-anchor="middle" fill="#222">activity</text>
<line x1="295.50" y1="142.20" x2="295.50" y2="154.10" stroke="#707070" stroke-width="0.5"/>
<circle cx="295.50" cy="154.20" r="1.80" fill="#4f22a5" stroke="none" stroke-width="0"/>
<text class="R" x="295.80" y="135.26" font-size="5.15" text-anchor="middle" fill="#222">cytoskeletal protein</text>
<text class="R" x="295.80" y="141.16" font-size="5.15" text-anchor="middle" fill="#222">binding</text>
<line x1="337.80" y1="143.50" x2="337.80" y2="154.10" stroke="#707070" stroke-width="0.5"/>
<circle cx="337.80" cy="154.10" r="1.50" fill="#8f86cc" stroke="none" stroke-width="0"/>
<text class="R" x="337.80" y="143.76" font-size="5.15" text-anchor="middle" fill="#222">tubulin binding</text>
<line x1="273.60" y1="159.80" x2="273.60" y2="171.60" stroke="#707070" stroke-width="0.5"/>
<circle cx="273.60" cy="171.60" r="2.00" fill="#3f007d" stroke="none" stroke-width="0"/>
<text class="R" x="273.70" y="159.86" font-size="5.15" text-anchor="middle" fill="#222">RNA binding</text>
<line x1="392.50" y1="169.60" x2="392.50" y2="181.00" stroke="#707070" stroke-width="0.5"/>
<text class="R" x="392.50" y="163.46" font-size="5.15" text-anchor="middle" fill="#222">deoxyribonuclease</text>
<text class="R" x="392.50" y="169.56" font-size="5.15" text-anchor="middle" fill="#222">activity</text>
<text class="R" x="371.00" y="186.76" font-size="5.15" text-anchor="middle" fill="#222">monocarboxylic acid</text>
<text class="R" x="371.00" y="192.66" font-size="5.15" text-anchor="middle" fill="#222">binding</text>
<line x1="504.50" y1="150.50" x2="516.40" y2="179.50" stroke="#707070" stroke-width="0.5"/>
<text class="R" x="500.00" y="137.26" font-size="5.15" text-anchor="middle" fill="#222">serotonin-gated</text>
<text class="R" x="500.00" y="143.61" font-size="5.15" text-anchor="middle" fill="#222">cation-selective channel</text>
<text class="R" x="500.00" y="149.96" font-size="5.15" text-anchor="middle" fill="#222">activity</text>
<line x1="489.00" y1="166.00" x2="516.40" y2="179.50" stroke="#707070" stroke-width="0.5"/>
<text class="R" x="482.60" y="159.46" font-size="5.15" text-anchor="middle" fill="#222">arachidonic acid</text>
<text class="R" x="482.60" y="165.26" font-size="5.15" text-anchor="middle" fill="#222">binding</text>
<line x1="525.50" y1="166.00" x2="516.80" y2="179.50" stroke="#707070" stroke-width="0.5"/>
<text class="R" x="528.60" y="159.46" font-size="5.15" text-anchor="middle" fill="#222">mediator complex</text>
<text class="R" x="528.60" y="165.26" font-size="5.15" text-anchor="middle" fill="#222">binding</text>
<text class="R" x="470.70" y="175.96" font-size="5.15" text-anchor="middle" fill="#222">biotin binding</text>
<circle cx="516.60" cy="180.30" r="1.30" fill="#c8c4dc" stroke="none" stroke-width="0"/>
<text class="S" x="514.10" y="178.94" font-size="4.96" text-anchor="middle" fill="#3a3a3a">log2 of enrichment ratio</text>
<defs><linearGradient id="gD" x1="0" x2="1" y1="0" y2="0"><stop offset="0" stop-color="#dbd7f0"/><stop offset="0.5" stop-color="#7b6cc2"/><stop offset="1" stop-color="#420888"/></linearGradient></defs>
<rect x="212.70" y="206.80" width="39.60" height="7.70" fill="url(#gD)" stroke="none" stroke-width="0"/>
<line x1="212.70" y1="215.00" x2="252.30" y2="215.00" stroke="#333" stroke-width="0.5"/>
<line x1="212.70" y1="215.00" x2="212.70" y2="216.50" stroke="#333" stroke-width="0.5"/>
<line x1="252.30" y1="215.00" x2="252.30" y2="216.50" stroke="#333" stroke-width="0.5"/>
<line x1="219.59" y1="215.00" x2="219.59" y2="216.50" stroke="#333" stroke-width="0.5"/>
<text class="S" x="219.59" y="221.84" font-size="4.3" text-anchor="middle" fill="#222">5</text>
<line x1="228.20" y1="215.00" x2="228.20" y2="216.50" stroke="#333" stroke-width="0.5"/>
<text class="S" x="228.20" y="221.84" font-size="4.3" text-anchor="middle" fill="#222">10</text>
<line x1="236.80" y1="215.00" x2="236.80" y2="216.50" stroke="#333" stroke-width="0.5"/>
<text class="S" x="236.80" y="221.84" font-size="4.3" text-anchor="middle" fill="#222">15</text>
<line x1="245.41" y1="215.00" x2="245.41" y2="216.50" stroke="#333" stroke-width="0.5"/>
<text class="S" x="245.41" y="221.84" font-size="4.3" text-anchor="middle" fill="#222">20</text>
<line x1="200.30" y1="205.20" x2="200.30" y2="402.20" stroke="#333" stroke-width="0.6"/>
<line x1="198.10" y1="385.78" x2="200.30" y2="385.78" stroke="#333" stroke-width="0.6"/>
<text class="S" x="195.90" y="387.71" font-size="5.4" text-anchor="end" fill="#222">1</text>
<line x1="198.10" y1="369.36" x2="200.30" y2="369.36" stroke="#333" stroke-width="0.6"/>
<text class="S" x="195.90" y="371.29" font-size="5.4" text-anchor="end" fill="#222">2</text>
<line x1="198.10" y1="352.94" x2="200.30" y2="352.94" stroke="#333" stroke-width="0.6"/>
<text class="S" x="195.90" y="354.87" font-size="5.4" text-anchor="end" fill="#222">3</text>
<line x1="198.10" y1="336.52" x2="200.30" y2="336.52" stroke="#333" stroke-width="0.6"/>
<text class="S" x="195.90" y="338.45" font-size="5.4" text-anchor="end" fill="#222">4</text>
<line x1="198.10" y1="320.10" x2="200.30" y2="320.10" stroke="#333" stroke-width="0.6"/>
<text class="S" x="195.90" y="322.03" font-size="5.4" text-anchor="end" fill="#222">5</text>
<line x1="198.10" y1="303.68" x2="200.30" y2="303.68" stroke="#333" stroke-width="0.6"/>
<text class="S" x="195.90" y="305.61" font-size="5.4" text-anchor="end" fill="#222">6</text>
<line x1="198.10" y1="287.26" x2="200.30" y2="287.26" stroke="#333" stroke-width="0.6"/>
<text class="S" x="195.90" y="289.19" font-size="5.4" text-anchor="end" fill="#222">7</text>
<line x1="198.10" y1="270.84" x2="200.30" y2="270.84" stroke="#333" stroke-width="0.6"/>
<text class="S" x="195.90" y="272.77" font-size="5.4" text-anchor="end" fill="#222">8</text>
<line x1="198.10" y1="254.42" x2="200.30" y2="254.42" stroke="#333" stroke-width="0.6"/>
<text class="S" x="195.90" y="256.35" font-size="5.4" text-anchor="end" fill="#222">9</text>
<line x1="198.10" y1="238.00" x2="200.30" y2="238.00" stroke="#333" stroke-width="0.6"/>
<text class="S" x="195.90" y="239.93" font-size="5.4" text-anchor="end" fill="#222">10</text>
<line x1="198.10" y1="221.58" x2="200.30" y2="221.58" stroke="#333" stroke-width="0.6"/>
<text class="S" x="195.90" y="223.51" font-size="5.4" text-anchor="end" fill="#222">11</text>
<line x1="198.10" y1="205.16" x2="200.30" y2="205.16" stroke="#333" stroke-width="0.6"/>
<text class="S" x="195.90" y="207.09" font-size="5.4" text-anchor="end" fill="#222">12</text>
<text class="S" x="207.00" y="221.50" font-size="5.1" text-anchor="middle" fill="#222" transform="rotate(-90 207.00 221.50)">-Log10 of FDR</text>
<line x1="160.20" y1="402.20" x2="511.45" y2="402.20" stroke="#3c3c55" stroke-width="0.7"/>
<ellipse cx="161.70" cy="402.20" rx="0.8" ry="0.5" fill="#5a5490" fill-opacity="0.35"/>
<ellipse cx="165.30" cy="402.20" rx="0.8" ry="0.5" fill="#5a5490" fill-opacity="0.35"/>
<ellipse cx="168.90" cy="402.20" rx="0.8" ry="0.5" fill="#5a5490" fill-opacity="0.35"/>
<ellipse cx="172.50" cy="402.20" rx="0.8" ry="0.5" fill="#5a5490" fill-opacity="0.35"/>
<ellipse cx="176.10" cy="402.20" rx="0.8" ry="0.5" fill="#5a5490" fill-opacity="0.35"/>
<ellipse cx="179.70" cy="402.20" rx="0.8" ry="0.5" fill="#5a5490" fill-opacity="0.35"/>
<ellipse cx="183.30" cy="402.20" rx="0.8" ry="0.5" fill="#5a5490" fill-opacity="0.35"/>
<ellipse cx="186.90" cy="402.20" rx="0.8" ry="0.5" fill="#5a5490" fill-opacity="0.35"/>
<ellipse cx="190.50" cy="402.20" rx="0.8" ry="0.5" fill="#5a5490" fill-opacity="0.35"/>
<ellipse cx="194.10" cy="402.20" rx="0.8" ry="0.5" fill="#5a5490" fill-opacity="0.35"/>
<ellipse cx="197.70" cy="402.20" rx="0.8" ry="0.5" fill="#5a5490" fill-opacity="0.35"/>
<ellipse cx="201.30" cy="402.20" rx="0.8" ry="0.5" fill="#5a5490" fill-opacity="0.35"/>
<ellipse cx="204.90" cy="402.20" rx="0.8" ry="0.5" fill="#5a5490" fill-opacity="0.35"/>
<ellipse cx="208.50" cy="402.20" rx="0.8" ry="0.5" fill="#5a5490" fill-opacity="0.35"/>
<ellipse cx="212.10" cy="402.20" rx="0.8" ry="0.5" fill="#5a5490" fill-opacity="0.35"/>
<ellipse cx="215.70" cy="402.20" rx="0.8" ry="0.5" fill="#5a5490" fill-opacity="0.35"/>
<ellipse cx="219.30" cy="402.20" rx="0.8" ry="0.5" fill="#5a5490" fill-opacity="0.35"/>
<ellipse cx="222.90" cy="402.20" rx="0.8" ry="0.5" fill="#5a5490" fill-opacity="0.35"/>
<ellipse cx="226.50" cy="402.20" rx="0.8" ry="0.5" fill="#5a5490" fill-opacity="0.35"/>
<ellipse cx="230.10" cy="402.20" rx="0.8" ry="0.5" fill="#5a5490" fill-opacity="0.35"/>
<ellipse cx="233.70" cy="402.20" rx="0.8" ry="0.5" fill="#5a5490" fill-opacity="0.35"/>
<ellipse cx="237.30" cy="402.20" rx="0.8" ry="0.5" fill="#5a5490" fill-opacity="0.35"/>
<ellipse cx="240.90" cy="402.20" rx="0.8" ry="0.5" fill="#5a5490" fill-opacity="0.35"/>
<ellipse cx="244.50" cy="402.20" rx="0.8" ry="0.5" fill="#5a5490" fill-opacity="0.35"/>
<ellipse cx="248.10" cy="402.20" rx="0.8" ry="0.5" fill="#5a5490" fill-opacity="0.35"/>
<ellipse cx="251.70" cy="402.20" rx="0.8" ry="0.5" fill="#5a5490" fill-opacity="0.35"/>
<ellipse cx="255.30" cy="402.20" rx="0.8" ry="0.5" fill="#5a5490" fill-opacity="0.35"/>
<ellipse cx="258.90" cy="402.20" rx="0.8" ry="0.5" fill="#5a5490" fill-opacity="0.35"/>
<ellipse cx="262.50" cy="402.20" rx="0.8" ry="0.5" fill="#5a5490" fill-opacity="0.35"/>
<ellipse cx="266.10" cy="402.20" rx="0.8" ry="0.5" fill="#5a5490" fill-opacity="0.35"/>
<ellipse cx="269.70" cy="402.20" rx="0.8" ry="0.5" fill="#5a5490" fill-opacity="0.35"/>
<ellipse cx="273.30" cy="402.20" rx="0.8" ry="0.5" fill="#5a5490" fill-opacity="0.35"/>
<ellipse cx="276.90" cy="402.20" rx="0.8" ry="0.5" fill="#5a5490" fill-opacity="0.35"/>
<ellipse cx="280.50" cy="402.20" rx="0.8" ry="0.5" fill="#5a5490" fill-opacity="0.35"/>
<ellipse cx="284.10" cy="402.20" rx="0.8" ry="0.5" fill="#5a5490" fill-opacity="0.35"/>
<ellipse cx="287.70" cy="402.20" rx="0.8" ry="0.5" fill="#5a5490" fill-opacity="0.35"/>
<ellipse cx="291.30" cy="402.20" rx="0.8" ry="0.5" fill="#5a5490" fill-opacity="0.35"/>
<ellipse cx="294.90" cy="402.20" rx="0.8" ry="0.5" fill="#5a5490" fill-opacity="0.35"/>
<ellipse cx="298.50" cy="402.20" rx="0.8" ry="0.5" fill="#5a5490" fill-opacity="0.35"/>
<ellipse cx="302.10" cy="402.20" rx="0.8" ry="0.5" fill="#5a5490" fill-opacity="0.35"/>
<ellipse cx="305.70" cy="402.20" rx="0.8" ry="0.5" fill="#5a5490" fill-opacity="0.35"/>
<ellipse cx="309.30" cy="402.20" rx="0.8" ry="0.5" fill="#5a5490" fill-opacity="0.35"/>
<ellipse cx="312.90" cy="402.20" rx="0.8" ry="0.5" fill="#5a5490" fill-opacity="0.35"/>
<ellipse cx="316.50" cy="402.20" rx="0.8" ry="0.5" fill="#5a5490" fill-opacity="0.35"/>
<ellipse cx="320.10" cy="402.20" rx="0.8" ry="0.5" fill="#5a5490" fill-opacity="0.35"/>
<ellipse cx="323.70" cy="402.20" rx="0.8" ry="0.5" fill="#5a5490" fill-opacity="0.35"/>
<ellipse cx="327.30" cy="402.20" rx="0.8" ry="0.5" fill="#5a5490" fill-opacity="0.35"/>
<ellipse cx="330.90" cy="402.20" rx="0.8" ry="0.5" fill="#5a5490" fill-opacity="0.35"/>
<ellipse cx="334.50" cy="402.20" rx="0.8" ry="0.5" fill="#5a5490" fill-opacity="0.35"/>
<ellipse cx="338.10" cy="402.20" rx="0.8" ry="0.5" fill="#5a5490" fill-opacity="0.35"/>
<ellipse cx="341.70" cy="402.20" rx="0.8" ry="0.5" fill="#5a5490" fill-opacity="0.35"/>
<ellipse cx="345.30" cy="402.20" rx="0.8" ry="0.5" fill="#5a5490" fill-opacity="0.35"/>
<ellipse cx="348.90" cy="402.20" rx="0.8" ry="0.5" fill="#5a5490" fill-opacity="0.35"/>
<ellipse cx="352.50" cy="402.20" rx="0.8" ry="0.5" fill="#5a5490" fill-opacity="0.35"/>
<ellipse cx="356.10" cy="402.20" rx="0.8" ry="0.5" fill="#5a5490" fill-opacity="0.35"/>
<ellipse cx="359.70" cy="402.20" rx="0.8" ry="0.5" fill="#5a5490" fill-opacity="0.35"/>
<ellipse cx="363.30" cy="402.20" rx="0.8" ry="0.5" fill="#5a5490" fill-opacity="0.35"/>
<ellipse cx="366.90" cy="402.20" rx="0.8" ry="0.5" fill="#5a5490" fill-opacity="0.35"/>
<ellipse cx="370.50" cy="402.20" rx="0.8" ry="0.5" fill="#5a5490" fill-opacity="0.35"/>
<ellipse cx="374.10" cy="402.20" rx="0.8" ry="0.5" fill="#5a5490" fill-opacity="0.35"/>
<ellipse cx="377.70" cy="402.20" rx="0.8" ry="0.5" fill="#5a5490" fill-opacity="0.35"/>
<ellipse cx="381.30" cy="402.20" rx="0.8" ry="0.5" fill="#5a5490" fill-opacity="0.35"/>
<ellipse cx="384.90" cy="402.20" rx="0.8" ry="0.5" fill="#5a5490" fill-opacity="0.35"/>
<ellipse cx="388.50" cy="402.20" rx="0.8" ry="0.5" fill="#5a5490" fill-opacity="0.35"/>
<ellipse cx="392.10" cy="402.20" rx="0.8" ry="0.5" fill="#5a5490" fill-opacity="0.35"/>
<ellipse cx="395.70" cy="402.20" rx="0.8" ry="0.5" fill="#5a5490" fill-opacity="0.35"/>
<ellipse cx="399.30" cy="402.20" rx="0.8" ry="0.5" fill="#5a5490" fill-opacity="0.35"/>
<ellipse cx="402.90" cy="402.20" rx="0.8" ry="0.5" fill="#5a5490" fill-opacity="0.35"/>
<ellipse cx="406.50" cy="402.20" rx="0.8" ry="0.5" fill="#5a5490" fill-opacity="0.35"/>
<ellipse cx="410.10" cy="402.20" rx="0.8" ry="0.5" fill="#5a5490" fill-opacity="0.35"/>
<ellipse cx="413.70" cy="402.20" rx="0.8" ry="0.5" fill="#5a5490" fill-opacity="0.35"/>
<ellipse cx="417.30" cy="402.20" rx="0.8" ry="0.5" fill="#5a5490" fill-opacity="0.35"/>
<ellipse cx="420.90" cy="402.20" rx="0.8" ry="0.5" fill="#5a5490" fill-opacity="0.35"/>
<ellipse cx="424.50" cy="402.20" rx="0.8" ry="0.5" fill="#5a5490" fill-opacity="0.35"/>
<ellipse cx="428.10" cy="402.20" rx="0.8" ry="0.5" fill="#5a5490" fill-opacity="0.35"/>
<ellipse cx="431.70" cy="402.20" rx="0.8" ry="0.5" fill="#5a5490" fill-opacity="0.35"/>
<ellipse cx="435.30" cy="402.20" rx="0.8" ry="0.5" fill="#5a5490" fill-opacity="0.35"/>
<ellipse cx="438.90" cy="402.20" rx="0.8" ry="0.5" fill="#5a5490" fill-opacity="0.35"/>
<ellipse cx="442.50" cy="402.20" rx="0.8" ry="0.5" fill="#5a5490" fill-opacity="0.35"/>
<ellipse cx="446.10" cy="402.20" rx="0.8" ry="0.5" fill="#5a5490" fill-opacity="0.35"/>
<ellipse cx="449.70" cy="402.20" rx="0.8" ry="0.5" fill="#5a5490" fill-opacity="0.35"/>
<ellipse cx="453.30" cy="402.20" rx="0.8" ry="0.5" fill="#5a5490" fill-opacity="0.35"/>
<ellipse cx="456.90" cy="402.20" rx="0.8" ry="0.5" fill="#5a5490" fill-opacity="0.35"/>
<ellipse cx="460.50" cy="402.20" rx="0.8" ry="0.5" fill="#5a5490" fill-opacity="0.35"/>
<ellipse cx="464.10" cy="402.20" rx="0.8" ry="0.5" fill="#5a5490" fill-opacity="0.35"/>
<ellipse cx="467.70" cy="402.20" rx="0.8" ry="0.5" fill="#5a5490" fill-opacity="0.35"/>
<ellipse cx="471.30" cy="402.20" rx="0.8" ry="0.5" fill="#5a5490" fill-opacity="0.35"/>
<ellipse cx="474.90" cy="402.20" rx="0.8" ry="0.5" fill="#5a5490" fill-opacity="0.35"/>
<ellipse cx="478.50" cy="402.20" rx="0.8" ry="0.5" fill="#5a5490" fill-opacity="0.35"/>
<ellipse cx="482.10" cy="402.20" rx="0.8" ry="0.5" fill="#5a5490" fill-opacity="0.35"/>
<ellipse cx="485.70" cy="402.20" rx="0.8" ry="0.5" fill="#5a5490" fill-opacity="0.35"/>
<ellipse cx="489.30" cy="402.20" rx="0.8" ry="0.5" fill="#5a5490" fill-opacity="0.35"/>
<ellipse cx="492.90" cy="402.20" rx="0.8" ry="0.5" fill="#5a5490" fill-opacity="0.35"/>
<ellipse cx="496.50" cy="402.20" rx="0.8" ry="0.5" fill="#5a5490" fill-opacity="0.35"/>
<ellipse cx="500.10" cy="402.20" rx="0.8" ry="0.5" fill="#5a5490" fill-opacity="0.35"/>
<ellipse cx="503.70" cy="402.20" rx="0.8" ry="0.5" fill="#5a5490" fill-opacity="0.35"/>
<ellipse cx="507.30" cy="402.20" rx="0.8" ry="0.5" fill="#5a5490" fill-opacity="0.35"/>
<line x1="200.30" y1="402.20" x2="200.30" y2="404.20" stroke="#333" stroke-width="0.5"/>
<text class="S" x="200.30" y="409.84" font-size="5.3" text-anchor="middle" fill="#222">0</text>
<line x1="244.75" y1="402.20" x2="244.75" y2="404.20" stroke="#333" stroke-width="0.5"/>
<text class="S" x="244.75" y="409.84" font-size="5.3" text-anchor="middle" fill="#222">1</text>
<line x1="289.20" y1="402.20" x2="289.20" y2="404.20" stroke="#333" stroke-width="0.5"/>
<text class="S" x="289.20" y="409.84" font-size="5.3" text-anchor="middle" fill="#222">2</text>
<line x1="333.65" y1="402.20" x2="333.65" y2="404.20" stroke="#333" stroke-width="0.5"/>
<text class="S" x="333.65" y="409.84" font-size="5.3" text-anchor="middle" fill="#222">3</text>
<line x1="378.10" y1="402.20" x2="378.10" y2="404.20" stroke="#333" stroke-width="0.5"/>
<text class="S" x="378.10" y="409.84" font-size="5.3" text-anchor="middle" fill="#222">4</text>
<line x1="422.55" y1="402.20" x2="422.55" y2="404.20" stroke="#333" stroke-width="0.5"/>
<text class="S" x="422.55" y="409.84" font-size="5.3" text-anchor="middle" fill="#222">5</text>
<line x1="467.00" y1="402.20" x2="467.00" y2="404.20" stroke="#333" stroke-width="0.5"/>
<text class="S" x="467.00" y="409.84" font-size="5.3" text-anchor="middle" fill="#222">6</text>
<line x1="511.45" y1="402.20" x2="511.45" y2="404.20" stroke="#333" stroke-width="0.5"/>
<text class="S" x="511.45" y="409.84" font-size="5.3" text-anchor="middle" fill="#222">7</text>
<circle cx="164.80" cy="402.20" r="1.00" fill="#b0a8e4" stroke="#4a40a8" stroke-width="0.45" opacity="0.4"/>
<circle cx="168.90" cy="402.20" r="1.00" fill="#b0a8e4" stroke="#4a40a8" stroke-width="0.45" opacity="0.4"/>
<circle cx="174.80" cy="402.20" r="1.00" fill="#b0a8e4" stroke="#4a40a8" stroke-width="0.45" opacity="0.4"/>
<circle cx="186.20" cy="402.20" r="1.30" fill="#b0a8e4" stroke="#4a40a8" stroke-width="0.45" opacity="0.5"/>
<circle cx="195.30" cy="402.20" r="1.00" fill="#b0a8e4" stroke="#4a40a8" stroke-width="0.45" opacity="0.4"/>
<circle cx="207.00" cy="402.20" r="1.20" fill="#b0a8e4" stroke="#4a40a8" stroke-width="0.45" opacity="0.2"/>
<circle cx="210.00" cy="402.20" r="1.20" fill="#b0a8e4" stroke="#4a40a8" stroke-width="0.45" opacity="0.2"/>
<circle cx="213.50" cy="402.20" r="1.20" fill="#b0a8e4" stroke="#4a40a8" stroke-width="0.45" opacity="0.2"/>
<circle cx="224.50" cy="402.20" r="1.10" fill="#b0a8e4" stroke="#4a40a8" stroke-width="0.45" opacity="0.25"/>
<circle cx="231.50" cy="402.20" r="1.60" fill="#b0a8e4" stroke="#4a40a8" stroke-width="0.45" opacity="0.75"/>
<circle cx="234.50" cy="402.20" r="1.60" fill="#b0a8e4" stroke="#4a40a8" stroke-width="0.45" opacity="0.75"/>
<circle cx="240.30" cy="402.20" r="1.50" fill="#b0a8e4" stroke="#4a40a8" stroke-width="0.45" opacity="0.7"/>
<circle cx="246.00" cy="402.20" r="1.50" fill="#b0a8e4" stroke="#4a40a8" stroke-width="0.45" opacity="0.7"/>
<circle cx="248.50" cy="400.80" r="1.60" fill="#b0a8e4" stroke="#4a40a8" stroke-width="0.45" opacity="0.7"/>
<circle cx="250.20" cy="402.20" r="1.40" fill="#b0a8e4" stroke="#4a40a8" stroke-width="0.45" opacity="0.7"/>
<circle cx="254.50" cy="402.20" r="1.10" fill="#b0a8e4" stroke="#4a40a8" stroke-width="0.45" opacity="0.5"/>
<line x1="328.80" y1="215.70" x2="328.80" y2="230.30" stroke="#606060" stroke-width="0.5"/>
<circle cx="328.80" cy="215.70" r="2.90" fill="#3f007d" stroke="none" stroke-width="0"/>
<text class="R" x="328.50" y="236.92" font-size="5.8" text-anchor="middle" fill="#222" stroke="#333" stroke-width="0.05">structural molecule</text>
<text class="R" x="328.50" y="244.12" font-size="5.8" text-anchor="middle" fill="#222" stroke="#333" stroke-width="0.05">activity</text>
<line x1="369.90" y1="307.00" x2="369.90" y2="321.50" stroke="#606060" stroke-width="0.5"/>
<circle cx="369.90" cy="321.50" r="2.00" fill="#8c82c8" stroke="none" stroke-width="0"/>
<text class="R" x="369.90" y="299.02" font-size="5.8" text-anchor="middle" fill="#222" stroke="#333" stroke-width="0.05">structural constituent of</text>
<text class="R" x="369.90" y="306.12" font-size="5.8" text-anchor="middle" fill="#222" stroke="#333" stroke-width="0.05">ribosome</text>
<line x1="265.30" y1="362.50" x2="265.30" y2="377.40" stroke="#606060" stroke-width="0.5"/>
<circle cx="265.30" cy="377.60" r="2.70" fill="#5530a8" stroke="none" stroke-width="0"/>
<text class="R" x="265.30" y="361.92" font-size="5.8" text-anchor="middle" fill="#222" stroke="#333" stroke-width="0.05">RNA binding</text>
<circle cx="282.40" cy="396.90" r="1.80" fill="#a59ed6" stroke="none" stroke-width="0"/>
<circle cx="299.00" cy="393.60" r="1.60" fill="#a59ed6" stroke="none" stroke-width="0"/>
<circle cx="320.60" cy="396.60" r="1.20" fill="#bcb6e2" stroke="none" stroke-width="0"/>
<circle cx="336.90" cy="399.80" r="0.90" fill="#c8c3e8" stroke="none" stroke-width="0"/>
<line x1="453.80" y1="347.60" x2="463.60" y2="387.50" stroke="#606060" stroke-width="0.5"/>
<text class="R" x="451.00" y="340.02" font-size="5.8" text-anchor="middle" fill="#222" stroke="#333" stroke-width="0.05">ligase activity, forming</text>
<text class="R" x="451.00" y="346.92" font-size="5.8" text-anchor="middle" fill="#222" stroke="#333" stroke-width="0.05">carbon-carbon bonds</text>
<line x1="424.40" y1="361.40" x2="456.00" y2="388.40" stroke="#606060" stroke-width="0.5"/>
<text class="R" x="413.80" y="353.22" font-size="5.8" text-anchor="middle" fill="#222" stroke="#333" stroke-width="0.05">3-hydroxyacyl-CoA</text>
<text class="R" x="413.80" y="360.12" font-size="5.8" text-anchor="middle" fill="#222" stroke="#333" stroke-width="0.05">dehydrogenase activity</text>
<line x1="415.80" y1="376.60" x2="450.50" y2="388.40" stroke="#606060" stroke-width="0.5"/>
<text class="R" x="398.20" y="369.12" font-size="5.8" text-anchor="middle" fill="#222" stroke="#333" stroke-width="0.05">ATP-dependent <tspan font-style="italic">3′-5′</tspan></text>
<text class="R" x="398.20" y="376.12" font-size="5.8" text-anchor="middle" fill="#222" stroke="#333" stroke-width="0.05">DNA helicase activity</text>
<line x1="416.00" y1="384.00" x2="433.10" y2="392.40" stroke="#606060" stroke-width="0.5"/>
<text class="R" x="401.10" y="383.82" font-size="5.8" text-anchor="middle" fill="#222" stroke="#333" stroke-width="0.05">AMP binding</text>
<line x1="412.40" y1="393.50" x2="424.40" y2="392.40" stroke="#606060" stroke-width="0.5"/>
<text class="R" x="389.80" y="392.92" font-size="5.8" text-anchor="middle" fill="#222" stroke="#333" stroke-width="0.05"><tspan font-style="italic">3′-5′</tspan> DNA helicase</text>
<text class="R" x="389.80" y="399.72" font-size="5.8" text-anchor="middle" fill="#222" stroke="#333" stroke-width="0.05">activity</text>
<line x1="476.70" y1="367.80" x2="482.50" y2="384.90" stroke="#606060" stroke-width="0.5"/>
<text class="R" x="475.10" y="366.82" font-size="5.8" text-anchor="middle" fill="#222" stroke="#333" stroke-width="0.05">CoA carboxylase activity</text>
<line x1="496.50" y1="377.30" x2="492.70" y2="383.60" stroke="#606060" stroke-width="0.5"/>
<text class="R" x="498.70" y="376.32" font-size="5.8" text-anchor="middle" fill="#222" stroke="#333" stroke-width="0.05">biotin binding</text>
<circle cx="433.10" cy="392.40" r="1.10" fill="#c4bfe4" stroke="none" stroke-width="0"/>
<circle cx="456.00" cy="388.40" r="1.10" fill="#c4bfe4" stroke="none" stroke-width="0"/>
<circle cx="450.50" cy="388.40" r="1.10" fill="#c4bfe4" stroke="none" stroke-width="0"/>
<circle cx="463.60" cy="387.50" r="1.10" fill="#c4bfe4" stroke="none" stroke-width="0"/>
<circle cx="482.50" cy="384.90" r="1.10" fill="#c4bfe4" stroke="none" stroke-width="0"/>
<circle cx="492.70" cy="383.60" r="1.10" fill="#c4bfe4" stroke="none" stroke-width="0"/>
<text class="S" x="481.00" y="398.91" font-size="5.75" text-anchor="middle" fill="#222">log2 of enrichment ratio</text>
</svg>
</body></html>
